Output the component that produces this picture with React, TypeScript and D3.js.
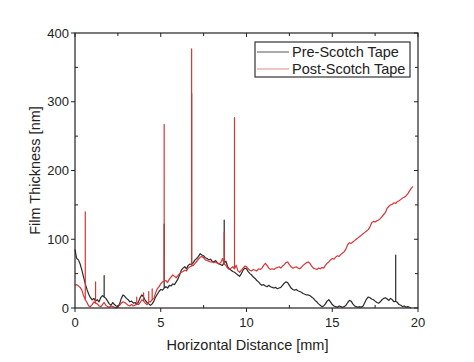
import React from "react";
import * as d3 from "d3";

const xStep = 0.1;

// baseline profiles sampled every 0.1 mm (spikes listed separately)
const preValues: number[] = [
  85, 72, 70, 64, 55, 45, 35, 27, 20, 15,
  12, 14, 10, 12, 9, 15, 18, 16, 14, 10,
  6, 4, 8, 5, 3, 2, 6, 14, 19, 17,
  14, 12, 9, 10, 7, 8, 5, 9, 15, 19,
  16, 11, 8, 6, 4, 6, 10, 16, 20, 24,
  27, 26, 29, 31, 29, 33, 32, 35, 34, 38,
  42, 48, 55, 58, 60, 57, 62, 64, 63, 66,
  70, 72, 75, 79, 77, 76, 73, 72, 70, 71,
  68, 67, 69, 66, 64, 63, 62, 66, 68, 60,
  57, 55, 53, 52, 50, 48, 46, 50, 55, 58,
  57, 53, 50, 48, 45, 43, 40, 38, 35, 33,
  34, 32, 31, 33, 31, 30, 29, 30, 28, 29,
  30, 33, 36, 38, 37, 33, 29, 27, 26, 27,
  25, 24, 23, 21, 20, 19, 19, 18, 16, 14,
  11, 9, 6, 4, 2, 3, 6, 10, 12, 9,
  5, 3, 2, 1, 3, 2, 1, 2, 4, 8,
  11, 10, 6, 3, 2, 1, 2, 1, 3, 8,
  13, 16, 15, 13, 12, 10, 8, 7, 9, 12,
  14, 15, 13, 11, 14, 12, 9, 10, 8, 5,
  4, 2, 3, 1, 2, 1, 0,
];

const postValues: number[] = [
  33, 34, 32, 30, 26, 18, 12, 8, 3, 2,
  5, 9, 7, 6, 3, 2, 5, 8, 4, 2,
  1, 3, 2, 1, 0, 2, 4, 7, 9, 8,
  6, 4, 3, 5, 3, 4, 6, 5, 8, 12,
  10, 7, 5, 9, 9, 12, 14, 22, 28, 31,
  35, 38, 39, 40, 37, 42, 45, 48, 46, 44,
  47, 50, 52, 53, 55, 54, 58, 60, 61, 62,
  65, 68, 71, 74, 75, 73, 70, 69, 68, 67,
  67, 66, 67, 65, 64, 66, 72, 64, 62, 58,
  56, 58, 60, 57, 62, 54, 52, 55, 58, 61,
  60, 57, 55, 54, 56, 55, 54, 57, 56, 58,
  62, 65, 62, 58, 56, 57, 56, 58, 59, 60,
  58, 61, 63, 66, 67, 63, 60, 58, 59, 60,
  58, 57, 59, 62, 64, 66, 67, 65, 61, 58,
  57, 56, 58, 57, 59, 58, 62, 65, 67, 70,
  72, 71, 74, 76, 75, 78, 80, 82, 86, 92,
  95, 94, 96, 98, 100, 102, 104, 106, 108, 110,
  112, 114, 118, 124, 126, 125, 127, 128, 130, 133,
  136, 139, 145, 148, 150, 151, 153, 152, 155, 156,
  158, 160, 161, 163, 166, 170, 174, 177,
];

// narrow spikes: sample index (x = index * 0.1 mm) and peak height [nm]
const preSpikeIndex = [17, 52, 68, 87, 187];
const preSpikePeak = [47, 122, 312, 128, 77];
const postSpikeIndex = [6, 12, 36, 40, 43, 45, 52, 68, 87, 93];
const postSpikePeak = [140, 38, 16, 22, 24, 28, 267, 377, 110, 277];

const xMajor = [0, 5, 10, 15, 20];
const xMinor = [2.5, 7.5, 12.5, 17.5];
const yMajor = [0, 100, 200, 300, 400];
const yMinor = [50, 150, 250, 350];

const seriesNames = ["Pre-Scotch Tape", "Post-Scotch Tape"];
const seriesColors = ["#2a2a2a", "#d93434"];
const legendColors = ["#555555", "#e08a8a"];

const X0 = 75, X1 = 418, Y0 = 308, Y1 = 33;
const FONT = "'Liberation Sans', Arial, sans-serif";

function buildPoints(values: number[], spikeIdx: number[], spikePeak: number[]) {
  const pts: [number, number][] = [];
  values.forEach((v, i) => {
    const s = spikeIdx.indexOf(i);
    const xv = i * xStep;
    if (s >= 0) {
      pts.push([xv, v], [xv, spikePeak[s]], [xv, v]);
    } else {
      pts.push([xv, v]);
    }
  });
  return pts;
}

export default function App() {
  const x = d3.scaleLinear().domain([0, 20]).range([X0, X1]);
  const y = d3.scaleLinear().domain([0, 400]).range([Y0, Y1]);
  const line = d3
    .line<[number, number]>()
    .x((d) => x(d[0]))
    .y((d) => y(d[1]));

  const series = [
    buildPoints(preValues, preSpikeIndex, preSpikePeak),
    buildPoints(postValues, postSpikeIndex, postSpikePeak),
  ];

  return (
    <svg
      width={474}
      height={362}
      style={{ position: "absolute", left: 0, top: 0, background: "#fff" }}
      fontFamily={FONT}
    >
      <rect x={0} y={0} width={474} height={362} fill="#fff" />
      {series.map((s, k) => (
        <path
          key={k}
          d={line(s) || ""}
          fill="none"
          stroke={seriesColors[k]}
          strokeWidth={1.2}
          strokeLinejoin="round"
        />
      ))}
      <rect x={X0} y={Y1} width={X1 - X0} height={Y0 - Y1} fill="none" stroke="#222" strokeWidth={1.2} />
      {xMajor.map((v) => (
        <g key={"xb" + v}>
          <line x1={x(v)} x2={x(v)} y1={Y0} y2={Y0 + 4} stroke="#222" />
          <line x1={x(v)} x2={x(v)} y1={Y1} y2={Y1 + 4} stroke="#222" />
          <text x={x(v)} y={327} textAnchor="middle" fontSize={13} fill="#222">
            {v}
          </text>
        </g>
      ))}
      {xMinor.map((v) => (
        <g key={"xm" + v}>
          <line x1={x(v)} x2={x(v)} y1={Y0} y2={Y0 - 3} stroke="#222" />
          <line x1={x(v)} x2={x(v)} y1={Y1} y2={Y1 + 3} stroke="#222" />
        </g>
      ))}
      {yMajor.map((v) => (
        <g key={"yb" + v}>
          <line x1={X0} x2={X0 - 4} y1={y(v)} y2={y(v)} stroke="#222" />
          <line x1={X1} x2={X1 - 4} y1={y(v)} y2={y(v)} stroke="#222" />
          <text x={69} y={y(v) + 4.5} textAnchor="end" fontSize={13} fill="#222">
            {v}
          </text>
        </g>
      ))}
      {yMinor.map((v) => (
        <g key={"ym" + v}>
          <line x1={X0} x2={X0 + 3} y1={y(v)} y2={y(v)} stroke="#222" />
          <line x1={X1} x2={X1 - 3} y1={y(v)} y2={y(v)} stroke="#222" />
        </g>
      ))}
      <text x={(X0 + X1) / 2 + 1} y={350} textAnchor="middle" fontSize={14.5} fill="#222">
        Horizontal Distance [mm]
      </text>
      <text
        transform={`translate(40, ${(Y0 + Y1) / 2}) rotate(-90)`}
        textAnchor="middle"
        fontSize={14.5}
        fill="#222"
      >
        Film Thickness [nm]
      </text>
      <rect x={255} y={42} width={155} height={35} fill="#fff" stroke="#333" strokeWidth={1.2} />
      {seriesNames.map((n, k) => (
        <g key={n}>
          <line x1={257} x2={289} y1={52 + k * 17} y2={52 + k * 17} stroke={legendColors[k]} strokeWidth={1} />
          <text x={292} y={56.5 + k * 17} fontSize={14.5} fill="#222">
            {n}
          </text>
        </g>
      ))}
    </svg>
  );
}
